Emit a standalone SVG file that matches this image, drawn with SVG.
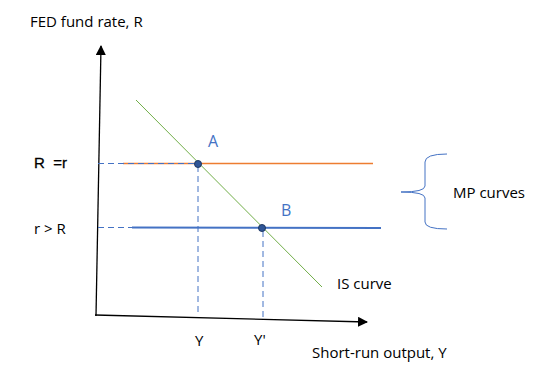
<svg xmlns="http://www.w3.org/2000/svg" width="550" height="391" viewBox="0 0 550 391">
<defs>
<style>
text{font-family:"Open Sans","Liberation Sans",sans-serif;font-size:15px;fill:#000}
.lbl{fill:#4472C4;font-size:16px}
.dash{stroke:#4472C4;stroke-width:1;stroke-dasharray:6,4;fill:none}
.pt{fill:#2F5597;stroke:#1F3864;stroke-width:1}
</style>
<marker id="ah" viewBox="0 0 10 10" refX="9" refY="5" markerWidth="10" markerHeight="10" markerUnits="userSpaceOnUse" orient="auto">
<path d="M0,0 L10,5 L0,10 z" fill="#000"/>
</marker>
</defs>
<rect width="550" height="391" fill="#fff"/>
<g id="connectors">
<line x1="96" y1="316" x2="101" y2="46" stroke="#000" stroke-width="1.3" marker-end="url(#ah)"/>
<line x1="95" y1="315" x2="367" y2="322" stroke="#000" stroke-width="1.3" marker-end="url(#ah)"/>
<line x1="123" y1="163.5" x2="373" y2="163.5" stroke="#ED7D31" stroke-width="1.5"/>
<line x1="132" y1="227.5" x2="381" y2="228" stroke="#4472C4" stroke-width="2"/>
<line x1="136" y1="100" x2="322" y2="287" stroke="#70AD47" stroke-width="1"/>
<path class="dash" d="M98,163.5 H196 M98,227.5 H132 M198,166 V316 M263,231 V318"/>
<path d="M447,154 Q425,154 425,162 V186 Q425,192 401,192 Q425,192 425,198 V222 Q425,229 447,229" fill="none" stroke="#4472C4" stroke-width="1"/>
</g>
<g id="pointA"><circle class="pt" cx="198" cy="164" r="3.5"/><text class="lbl" x="208" y="147">A</text></g>
<g id="pointB"><circle class="pt" cx="262" cy="228" r="3.5"/><text class="lbl" x="281" y="216">B</text></g>
<g id="labels">
<text x="30" y="27">FED fund rate, R</text>
<text x="34" y="168" xml:space="preserve" style="font-family:'Liberation Sans',sans-serif;font-size:15px;stroke:#000;stroke-width:0.3">R  =r</text>
<text x="34" y="234">r &gt; R</text>
<text x="453" y="198">MP curves</text>
<text x="337" y="289">IS curve</text>
<text x="195" y="346">Y</text>
<text x="254" y="345">Y'</text>
<text x="312" y="358">Short-run output, Y</text>
</g>
</svg>
